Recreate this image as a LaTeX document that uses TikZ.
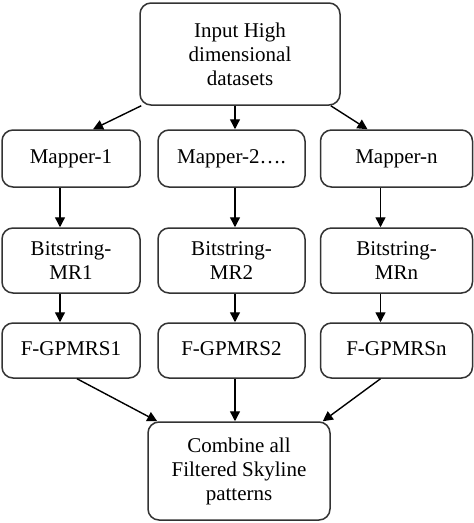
\documentclass[tikz,border=0pt]{standalone}
\usepackage{fontspec}
\setmainfont{Liberation Serif}
\usetikzlibrary{arrows.meta}

\tikzset{
  blk/.style={draw=black!80,line width=1.5pt,rounded corners=11pt,align=center,
    font=\fontsize{21}{24}\selectfont,inner sep=0pt},
  arr/.style={line width=1.4pt,-{Triangle[length=10pt,width=10pt]}}
}
\newcommand{\upbit}[1]{\raisebox{3pt}{#1}}

\begin{document}
\begin{tikzpicture}[x=1pt,y=-1pt]
  \useasboundingbox (0,0) rectangle (474,523);
  % source
  \node[blk,minimum width=200pt,minimum height=102pt] (in) at (240,54)
    {Input High\\dimensional\\datasets};
  % mappers
  \node[blk,minimum width=138pt,minimum height=57pt] (m1) at (71,158.5){\upbit{Mapper-1}};
  \node[blk,minimum width=147pt,minimum height=57pt] (m2) at (231.5,158.5){\upbit{Mapper-2\dots.}};
  \node[blk,minimum width=152pt,minimum height=57pt] (m3) at (396.5,158.5){\upbit{Mapper-n}};
  % bitstrings
  \node[blk,minimum width=138pt,minimum height=65pt] (b1) at (71,260.5){Bitstring-\\MR1};
  \node[blk,minimum width=147pt,minimum height=65pt] (b2) at (231.5,260.5){Bitstring-\\MR2};
  \node[blk,minimum width=152pt,minimum height=65pt] (b3) at (396.5,260.5){Bitstring-\\MRn};
  % filters
  \node[blk,minimum width=138pt,minimum height=55pt] (f1) at (71,350.5){\upbit{F-GPMRS1}};
  \node[blk,minimum width=147pt,minimum height=55pt] (f2) at (231.5,350.5){\upbit{F-GPMRS2}};
  \node[blk,minimum width=152pt,minimum height=55pt] (f3) at (396.5,350.5){\upbit{F-GPMRSn}};
  % result
  \node[blk,minimum width=182pt,minimum height=98pt] (out) at (239,471)
    {Combine all\\Filtered Skyline\\patterns};

  \draw[arr] ([xshift=2pt]in.south west) -- ([xshift=22pt]m1.north);
  \draw[arr] ([xshift=-5pt]in.south) -- ([xshift=3.5pt]m2.north);
  \draw[arr] ([xshift=-10pt]in.south east) -- ([xshift=-29pt]m3.north);

  \draw[arr] ([xshift=-11pt]m1.south) -- ([xshift=-11pt]b1.north);
  \draw[arr] ([xshift=3.5pt]m2.south) -- ([xshift=3.5pt]b2.north);
  \draw[arr] ([xshift=-16pt]m3.south) -- ([xshift=-16pt]b3.north);

  \draw[arr] ([xshift=-11pt]b1.south) -- ([xshift=-11pt]f1.north);
  \draw[arr] ([xshift=3.5pt]b2.south) -- ([xshift=3.5pt]f2.north);
  \draw[arr] ([xshift=-16pt]b3.south) -- ([xshift=-16pt]f3.north);

  \draw[arr] ([xshift=6pt]f1.south) -- ([xshift=10pt]out.north west);
  \draw[arr] ([xshift=3.5pt]f2.south) -- ([xshift=-4pt]out.north);
  \draw[arr] ([xshift=-16pt]f3.south) -- ([xshift=-8pt]out.north east);
\end{tikzpicture}
\end{document}
